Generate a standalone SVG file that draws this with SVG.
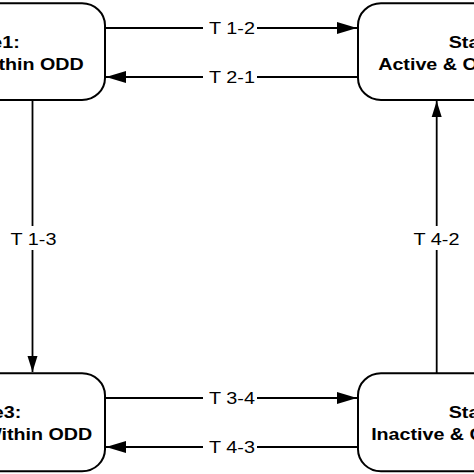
<svg xmlns="http://www.w3.org/2000/svg" width="474" height="474" viewBox="0 0 474 474">
<defs>
<style>
.node{fill:#fff;stroke:#000;stroke-width:2}
.edge{fill:none;stroke:#000;stroke-width:1.8}
.nt{font-family:"Liberation Sans",Arial,sans-serif;font-weight:bold;font-size:16px;fill:#000;text-anchor:middle}
.lt{font-family:"Liberation Sans",Arial,sans-serif;font-size:16px;fill:#000;text-anchor:middle}
.lbg{fill:#fff;stroke:none}
</style>
<marker id="ah" markerUnits="userSpaceOnUse" markerWidth="21" markerHeight="13" viewBox="0 0 21 13" refX="20" refY="6.5" orient="auto">
<path d="M0,0.5 L20,6.5 L0,12.5 Z" fill="#000"/>
</marker>
<marker id="av" markerUnits="userSpaceOnUse" markerWidth="17" markerHeight="11" viewBox="0 0 17 11" refX="16" refY="5.5" orient="auto">
<path d="M0,0.5 L16,5.5 L0,10.5 Z" fill="#000"/>
</marker>
</defs>
<rect width="474" height="474" fill="#fff"/>
<g id="connectors">
<g id="t12"><line class="edge" x1="105" y1="28" x2="357" y2="28" marker-end="url(#ah)"/><rect class="lbg" x="203" y="19" width="54" height="18"/><text class="lt" transform="translate(232,34) scale(1.24,1)">T 1-2</text></g>
<g id="t21"><line class="edge" x1="358" y1="77" x2="106" y2="77" marker-end="url(#ah)"/><rect class="lbg" x="203" y="68" width="54" height="18"/><text class="lt" transform="translate(232,83) scale(1.24,1)">T 2-1</text></g>
<g id="t34"><line class="edge" x1="105" y1="398" x2="357" y2="398" marker-end="url(#ah)"/><rect class="lbg" x="203" y="389" width="54" height="18"/><text class="lt" transform="translate(232,404) scale(1.24,1)">T 3-4</text></g>
<g id="t43"><line class="edge" x1="358" y1="447" x2="106" y2="447" marker-end="url(#ah)"/><rect class="lbg" x="203" y="438" width="54" height="18"/><text class="lt" transform="translate(232,453) scale(1.24,1)">T 4-3</text></g>
<g id="t13"><line class="edge" x1="32.5" y1="100" x2="32.5" y2="372" marker-end="url(#av)"/><rect class="lbg" x="10" y="226" width="46" height="24"/><text class="lt" transform="translate(33.5,245) scale(1.24,1)">T 1-3</text></g>
<g id="t42"><line class="edge" x1="436.7" y1="373" x2="436.7" y2="101" marker-end="url(#av)"/><rect class="lbg" x="414" y="226" width="46" height="24"/><text class="lt" transform="translate(436.5,245) scale(1.24,1)">T 4-2</text></g>
</g>
<g id="state1">
<rect class="node" x="-131" y="3.3" width="236" height="96.7" rx="23" ry="22"/>
<text class="nt" transform="translate(-13,47.5) scale(1.23,1)">State1:</text>
<text class="nt" transform="translate(-13,70) scale(1.23,1)">Active &amp; Within ODD</text>
</g>
<g id="state2">
<rect class="node" x="358" y="3.3" width="247" height="96.7" rx="23" ry="22"/>
<text class="nt" transform="translate(481.5,47.5) scale(1.23,1)">State2:</text>
<text class="nt" transform="translate(481.5,70) scale(1.23,1)">Active &amp; Outside ODD</text>
</g>
<g id="state3">
<rect class="node" x="-131" y="373.3" width="236" height="98" rx="23" ry="22"/>
<text class="nt" transform="translate(-11.5,417.5) scale(1.23,1)">State3:</text>
<text class="nt" transform="translate(-11.5,440) scale(1.23,1)">Inactive &amp; Within ODD</text>
</g>
<g id="state4">
<rect class="node" x="358" y="373.3" width="247" height="98" rx="23" ry="22"/>
<text class="nt" transform="translate(481.5,417.5) scale(1.23,1)">State4:</text>
<text class="nt" transform="translate(481.5,440) scale(1.23,1)">Inactive &amp; Outside ODD</text>
</g>
</svg>
